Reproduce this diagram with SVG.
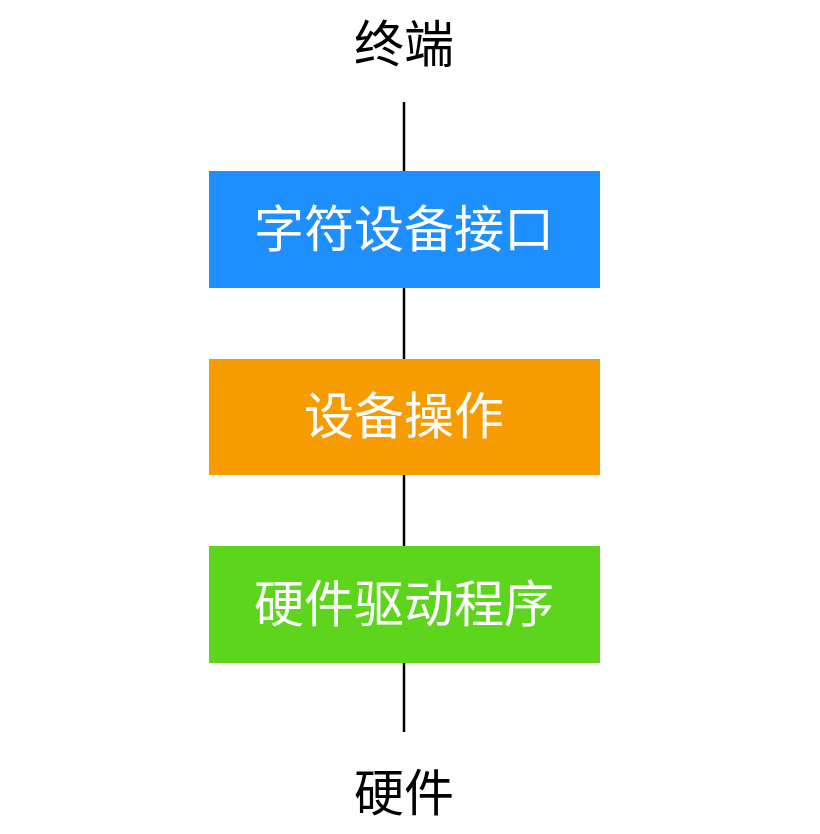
<svg xmlns="http://www.w3.org/2000/svg" width="820" height="834" viewBox="0 0 820 834">
<style>
text{font-family:"Noto Sans CJK SC","Noto Sans",sans-serif;font-size:50px;text-anchor:middle;dominant-baseline:central}
.lbl{fill:#000}
.in{fill:#fff}
.ln{stroke:#000;stroke-width:2.5;fill:none}
</style>
<rect width="820" height="834" fill="#fff"/>
<g id="connectors">
<line class="ln" x1="404" y1="102" x2="404" y2="171"/>
<line class="ln" x1="404" y1="288" x2="404" y2="359"/>
<line class="ln" x1="404" y1="475" x2="404" y2="546"/>
<line class="ln" x1="404" y1="663" x2="404" y2="732"/>
</g>
<g id="terminal"><text class="lbl" x="404" y="40">终端</text></g>
<g id="char-device"><rect x="209" y="171" width="391" height="117" fill="#1e8fff"/><text class="in" x="404" y="225">字符设备接口</text></g>
<g id="device-op"><rect x="209" y="359" width="391" height="116" fill="#f79c00"/><text class="in" x="404" y="412">设备操作</text></g>
<g id="driver"><rect x="209" y="546" width="391" height="117" fill="#5dd51d"/><text class="in" x="404" y="600">硬件驱动程序</text></g>
<g id="hardware"><text class="lbl" x="404" y="789">硬件</text></g>
</svg>
